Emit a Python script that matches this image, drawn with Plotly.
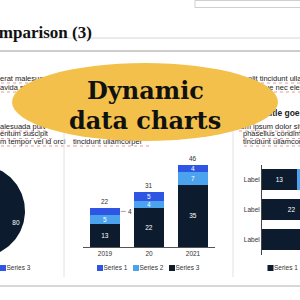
import math
import plotly.graph_objects as go

# ---------------- data ----------------
years = ["2019", "20", "2021"]
series_names = ["Series 1", "Series 2", "Series 3"]
col_s1 = [4, 5, 4]
col_s2 = [5, 4, 7]
col_s3 = [13, 22, 35]

bar_labels = ["Label", "Label", "Label"]
hbar_s1 = [13, 22, 35]
hbar_s2 = [5, 4, 7]
hbar_s3 = [4, 5, 4]

pie_names = ["Series 1", "Series 2", "Series 3"]
pie_values = [10, 10, 80]

title_text = "Comparison (3)"
badge_lines = ["Dynamic", "data charts"]

# ---------------- style ----------------
C1 = "#2f55e4"
C2 = "#4aa3ec"
C3 = "#0c1b2e"
YEL = "#F3C14B"
SANS = "Liberation Sans, Arial, sans-serif"
SERIF = "DejaVu Serif, serif"
TSERIF = "Liberation Serif, serif"
W = H = 300
PX_PER_UNIT = 1.78

fig = go.Figure()

# ---------- middle: stacked column chart ----------
col_text_s1 = [str(v) for v in col_s1]
col_text_s1[0] = ""  # label placed outside with leader
for name, vals, color, txt in [
    ("Series 3", col_s3, C3, [str(v) for v in col_s3]),
    ("Series 2", col_s2, C2, [str(v) for v in col_s2]),
    ("Series 1", col_s1, C1, col_text_s1),
]:
    fig.add_trace(go.Bar(x=years, y=vals, name=name, marker=dict(color=color, line=dict(width=0)),
                         text=txt, textposition="inside", insidetextanchor="middle",
                         textfont=dict(color="white", size=6.5, family=SANS), textangle=0,
                         xaxis="x", yaxis="y", showlegend=False, hoverinfo="skip"))

totals = [a + b + c for a, b, c in zip(col_s1, col_s2, col_s3)]
annotations = []
for i, t in enumerate(totals):
    annotations.append(dict(x=i, y=t, xref="x", yref="y", text=str(t), showarrow=False,
                            yanchor="bottom", yshift=1, font=dict(size=6.5, color="#333", family=SANS)))
# outside label for the small first segment
annotations.append(dict(x=0.36, y=col_s3[0] + col_s2[0] + col_s1[0] / 2, xref="x", yref="y",
                        text=str(col_s1[0]), showarrow=True, arrowhead=0, arrowwidth=0.6,
                        arrowcolor="#666", ax=5, ay=0, xanchor="left",
                        font=dict(size=6.5, color="#333", family=SANS)))

# ---------- right: horizontal stacked bars ----------
for name, vals, color in [("Series 1", hbar_s1, C3), ("Series 2", hbar_s2, C2), ("Series 3", hbar_s3, C1)]:
    fig.add_trace(go.Bar(y=[0, 1, 2], x=vals, orientation="h", name=name,
                         marker=dict(color=color, line=dict(width=0)),
                         text=[str(v) for v in vals], textposition="inside", insidetextanchor="middle",
                         textfont=dict(color="white", size=6.5, family=SANS), textangle=0,
                         xaxis="x2", yaxis="y2", showlegend=False, hoverinfo="skip", cliponaxis=True))

# ---------- overlay (pixel coordinates) ----------
pcx, pcy, pr = -21, 211, 46
start = 125.0
tot = sum(pie_values)
pie_colors = [C1, C2, C3]
a = start
for name, v, col in zip(pie_names, pie_values, pie_colors):
    span = 360.0 * v / tot
    xs, ys = [pcx], [pcy]
    n = max(4, int(span / 2))
    for k in range(n + 1):
        th = math.radians(a + span * k / n)
        xs.append(pcx + pr * math.cos(th))
        ys.append(pcy - pr * math.sin(th))
    xs.append(pcx); ys.append(pcy)
    fig.add_trace(go.Scatter(x=xs, y=ys, fill="toself", fillcolor=col, mode="lines",
                             line=dict(width=0, color=col), xaxis="x3", yaxis="y3",
                             showlegend=False, hoverinfo="skip"))
    mid = math.radians(a + span / 2)
    fig.add_trace(go.Scatter(x=[pcx + 0.85 * pr * math.cos(mid)], y=[pcy - 0.85 * pr * math.sin(mid)],
                             mode="text", text=[str(v)], textposition="middle center",
                             textfont=dict(color="white", size=6.5, family=SANS),
                             xaxis="x3", yaxis="y3", showlegend=False, hoverinfo="skip"))
    a += span

# body texts (drawn below the badge): x, y, text, weight, size, underline?
body = [
    (0, 79, "erat malesuada pellentesque", "normal", 7.5, True),
    (0, 88, "avida sit amet", "normal", 7.5, True),
    (248, 79, "olit tincidunt ullamcorper", "normal", 7.5, True),
    (261, 88, "que nec elementum", "normal", 7.5, True),
    (0, 127, "alesuada pulv", "normal", 7.5, True),
    (0, 134.5, "entum suscipit", "normal", 7.5, True),
    (0, 142, "m tempor vel id orci", "normal", 7.5, True),
    (73, 142, "tincidunt ullamcorper", "normal", 7.5, True),
    (238, 127, "rem ipsum dolor sit amet", "normal", 7.5, True),
    (243, 134.5, "phasellus condimentum", "normal", 7.5, True),
    (243, 142, "tincidunt ullamcorper", "normal", 7.5, True),
    (267, 114, "title goes here", "bold", 8.5, False),
]
underlines = []
for bx, by, t, wt, sz, ul in body:
    fig.add_trace(go.Scatter(x=[bx], y=[by], mode="text", text=[t], textposition="middle right",
                             textfont=dict(color="#222", size=sz, family=SANS, weight=wt),
                             xaxis="x3", yaxis="y3", showlegend=False, hoverinfo="skip", cliponaxis=False))
    if ul:
        underlines.append(dict(type="line", xref="x3", yref="y3", x0=bx + 1, x1=bx + len(t) * 3.7,
                               y0=by + 4, y1=by + 4, layer="below",
                               line=dict(color="#e49b9b", width=1, dash="dot")))

# legends
def legend(x0, names, colors, step=36):
    for i, (nm, col) in enumerate(zip(names, colors)):
        sx = x0 + i * step
        fig.add_trace(go.Scatter(x=[sx], y=[268], mode="markers",
                                 marker=dict(symbol="square", size=6, color=col, line=dict(width=0)),
                                 xaxis="x3", yaxis="y3", showlegend=False, hoverinfo="skip"))
        fig.add_trace(go.Scatter(x=[sx + 3.5], y=[268], mode="text", text=[nm], textposition="middle right",
                                 textfont=dict(color="#333", size=6.5, family=SANS),
                                 xaxis="x3", yaxis="y3", showlegend=False, hoverinfo="skip"))

legend(100, series_names, [C1, C2, C3])
legend(3 - 72, pie_names, [C1, C2, C1])
legend(270.5, series_names[:1], [C3])

# ---------- shapes ----------
shapes = [
    dict(type="line", xref="x3", yref="y3", x0=0, x1=300, y0=38, y1=38, line=dict(color="#d6d6d6", width=1)),
    dict(type="line", xref="x3", yref="y3", x0=0, x1=300, y0=51, y1=51, line=dict(color="#9a9a9a", width=1)),
    dict(type="rect", xref="x3", yref="y3", x0=195, x1=305, y0=0.5, y1=7.5, line=dict(color="#cfcfcf", width=1)),
    dict(type="line", xref="x3", yref="y3", x0=64, x1=64, y0=100, y1=277, line=dict(color="#e2e2e2", width=1)),
    dict(type="line", xref="x3", yref="y3", x0=233, x1=233, y0=100, y1=277, line=dict(color="#e2e2e2", width=1)),
    dict(type="line", xref="x3", yref="y3", x0=0, x1=300, y0=286, y1=286, line=dict(color="#b0b0b0", width=1)),
] + underlines + [
    dict(type="circle", xref="x3", yref="y3", x0=12, x1=278, y0=63, y1=141, fillcolor=YEL,
         line=dict(width=0), layer="above"),
]

annotations.append(dict(x=94 / W, y=1 - 32 / H, xref="paper", yref="paper", text=title_text,
                        showarrow=False, xanchor="right", yanchor="middle",
                        font=dict(family=TSERIF, size=17, color="#111", weight="bold")))
for line, yy in zip(badge_lines, [90, 120]):
    annotations.append(dict(x=145 / W, y=1 - yy / H, xref="paper", yref="paper", text=line,
                            showarrow=False, xanchor="center", yanchor="middle",
                            font=dict(family=SERIF, size=24, color="#111", weight="bold")))

fig.update_layout(
    width=W, height=H, margin=dict(l=0, r=0, t=0, b=0),
    paper_bgcolor="white", plot_bgcolor="rgba(0,0,0,0)",
    barmode="stack", bargap=0.3, showlegend=False,
    uniformtext=dict(minsize=6.5, mode="show"),
    xaxis=dict(domain=[83 / W, 215 / W], type="category", range=[-0.5, 2.5], showline=True,
               linecolor="#555", linewidth=1, ticks="", showgrid=False, zeroline=False,
               tickfont=dict(size=6.5, color="#333", family=SANS), anchor="y", fixedrange=True),
    yaxis=dict(domain=[53 / H, 150 / H], range=[0, 97 / PX_PER_UNIT], visible=False, anchor="x", fixedrange=True),
    xaxis2=dict(domain=[262 / W, 1], range=[0, 38 / 2.69], visible=False, anchor="y2", fixedrange=True),
    yaxis2=dict(domain=[45.5 / H, 135.5 / H], range=[2.5, -0.5], tickvals=[0, 1, 2], ticktext=bar_labels,
                showline=True, linecolor="#444", linewidth=1, ticks="", showgrid=False, zeroline=False,
                tickfont=dict(size=6.5, color="#333", family=SANS), anchor="x2", fixedrange=True),
    xaxis3=dict(domain=[0, 1], range=[0, 300], visible=False, anchor="y3", fixedrange=True),
    yaxis3=dict(domain=[0, 1], range=[300, 0], visible=False, anchor="x3", fixedrange=True),
    shapes=shapes, annotations=annotations,
)

fig.write_html("out.html", config={"displayModeBar": False})
